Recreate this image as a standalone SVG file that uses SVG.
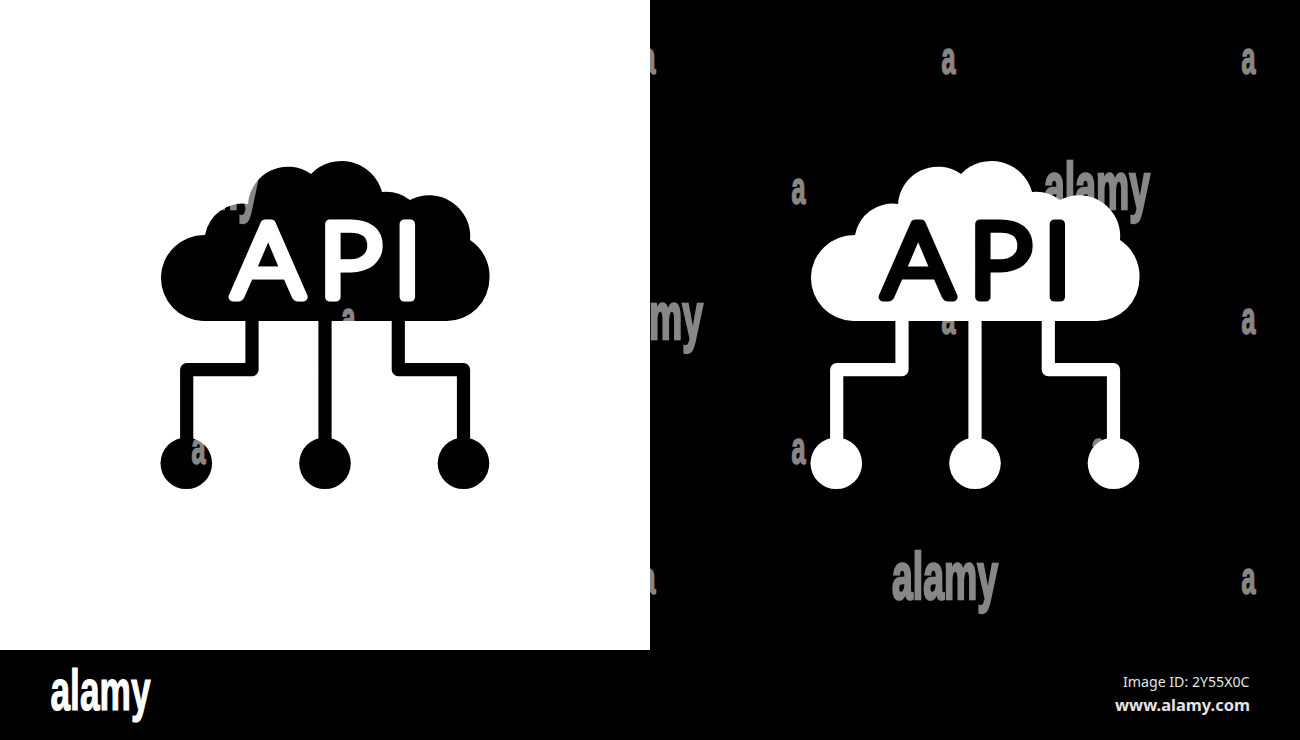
<svg xmlns="http://www.w3.org/2000/svg" width="1300" height="740" viewBox="0 0 1300 740">
<style>
.api{font-family:Lato,"Liberation Sans",sans-serif;font-size:102px;font-weight:300;stroke-width:9px;stroke-linejoin:round;stroke-linecap:round}
.wire{fill:none;stroke-width:13.2px;stroke-linejoin:round;stroke-linecap:butt}
.wm{font-family:"Liberation Sans",sans-serif;font-weight:700;fill:#fff;stroke:#fff;opacity:.53}
.a{font-size:46px;stroke-width:1.6px}
.big{font-size:66px;stroke-width:2.6px}
.foot{font-family:"Noto Sans","DejaVu Sans",sans-serif;fill:#e4e4e4}
</style>
<defs>
<path id="cloud" d="M203 321A43 43 0 0 1 205 235A38 38 0 0 1 248 204A40 40 0 0 1 311 174A42 42 0 0 1 382 192A40 40 0 0 1 410 200A41 41 0 0 1 470 240A43 43 0 0 1 489.5 278A43 43 0 0 1 446.5 321Z"/>
<path id="wires" d="M252 321V369.7H186.7V440M325 321V440M398.3 321V369.7H463.5V440"/>
</defs>
<rect id="background" width="1300" height="740" fill="#000"/>
<rect id="white-panel" width="650" height="650" fill="#fff"/>

<g id="connectors">
<use href="#wires" class="wire" stroke="#000"/>
<use href="#wires" class="wire" stroke="#fff" transform="translate(650 0)"/>
</g>

<g id="cloud-black">
<use href="#cloud" fill="#000"/>
<text class="api" x="0 80 149" y="0" transform="translate(232 296.5) scale(1.08 1)" fill="#fff" stroke="#fff">API</text>
</g>
<g id="node-black-1"><circle cx="186.3" cy="463.3" r="25.8" fill="#000"/></g>
<g id="node-black-2"><circle cx="325" cy="463.3" r="25.8" fill="#000"/></g>
<g id="node-black-3"><circle cx="463.5" cy="463.3" r="25.8" fill="#000"/></g>

<g id="cloud-white">
<use href="#cloud" fill="#fff" transform="translate(650 0)"/>
<text class="api" x="0 80 149" y="0" transform="translate(882 296.5) scale(1.08 1)" fill="#000" stroke="#000">API</text>
</g>
<g id="node-white-1"><circle cx="836.3" cy="463.3" r="25.8" fill="#fff"/></g>
<g id="node-white-2"><circle cx="975" cy="463.3" r="25.8" fill="#fff"/></g>
<g id="node-white-3"><circle cx="1113.5" cy="463.3" r="25.8" fill="#fff"/></g>

<g id="watermark">
<text class="wm big" x="153" y="209" textLength="106" lengthAdjust="spacingAndGlyphs">alamy</text>
<text class="wm big" x="1044" y="209" textLength="106" lengthAdjust="spacingAndGlyphs">alamy</text>
<text class="wm big" x="597" y="339" textLength="106" lengthAdjust="spacingAndGlyphs">alamy</text>
<text class="wm big" x="892" y="599" textLength="106" lengthAdjust="spacingAndGlyphs">alamy</text>
<text class="wm a" x="641.5" y="74" textLength="14" lengthAdjust="spacingAndGlyphs">a</text>
<text class="wm a" x="941.5" y="74" textLength="14" lengthAdjust="spacingAndGlyphs">a</text>
<text class="wm a" x="1241.5" y="74" textLength="14" lengthAdjust="spacingAndGlyphs">a</text>
<text class="wm a" x="791.5" y="204" textLength="14" lengthAdjust="spacingAndGlyphs">a</text>
<text class="wm a" x="341.5" y="334" textLength="14" lengthAdjust="spacingAndGlyphs">a</text>
<text class="wm a" x="941.5" y="334" textLength="14" lengthAdjust="spacingAndGlyphs">a</text>
<text class="wm a" x="1241.5" y="334" textLength="14" lengthAdjust="spacingAndGlyphs">a</text>
<text class="wm a" x="191.5" y="464" textLength="14" lengthAdjust="spacingAndGlyphs">a</text>
<text class="wm a" x="791.5" y="464" textLength="14" lengthAdjust="spacingAndGlyphs">a</text>
<text class="wm a" x="1091.5" y="464" textLength="14" lengthAdjust="spacingAndGlyphs">a</text>
<text class="wm a" x="641.5" y="594" textLength="14" lengthAdjust="spacingAndGlyphs">a</text>
<text class="wm a" x="1241.5" y="594" textLength="14" lengthAdjust="spacingAndGlyphs">a</text>
</g>

<g id="footer">
<text x="50.5" y="710" font-family="'Liberation Sans',sans-serif" font-weight="700" font-size="58" fill="#fff" stroke="#fff" stroke-width="1.2" textLength="100" lengthAdjust="spacingAndGlyphs">alamy</text>
<text class="foot" x="1123" y="687" font-size="15" textLength="126.5" lengthAdjust="spacingAndGlyphs">Image ID: 2Y55X0C</text>
<text class="foot" x="1115" y="711" font-size="16.5" font-weight="700" textLength="135" lengthAdjust="spacingAndGlyphs">www.alamy.com</text>
</g>
</svg>
